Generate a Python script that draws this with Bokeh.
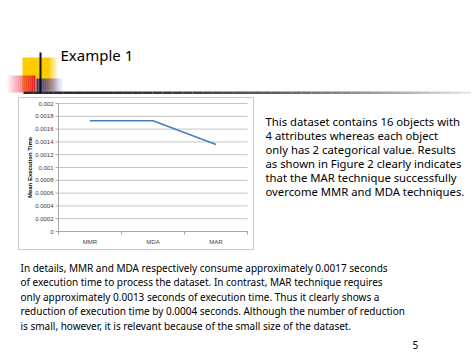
from math import pi
from bokeh.plotting import figure
from bokeh.models import Range1d, LinearScale
from bokeh.core.properties import value
from bokeh.embed import file_html
from bokeh.resources import INLINE

# ---- data ----
techniques = ["MMR", "MDA", "MAR"]
mean_exec_time = [0.00173, 0.00173, 0.00136]
y_ticks = [0, 0.0002, 0.0004, 0.0006, 0.0008, 0.001, 0.0012, 0.0014, 0.0016, 0.0018, 0.002]
y_tick_labels = ["0", "0.0002", "0.0004", "0.0006", "0.0008", "0.001", "0.0012",
                 "0.0014", "0.0016", "0.0018", "0.002"]
y_axis_title = "Mean Execution Time"
title_text = "Example 1"
right_lines = [
    "This dataset contains 16 objects with",
    "4 attributes whereas each object",
    "only has 2 categorical value. Results",
    "as shown in Figure 2 clearly indicates",
    "that the MAR technique successfully",
    "overcome MMR and MDA techniques.",
]
bottom_lines = [
    "In details, MMR and MDA respectively consume approximately 0.0017 seconds",
    "of execution time to process the dataset. In contrast, MAR technique requires",
    "only approximately 0.0013 seconds of execution time. Thus it clearly shows a",
    "reduction of execution time by 0.0004 seconds. Although the number of reduction",
    "is small, however, it is relevant because of the small size of the dataset.",
]
page_number = "5"

# ---- page geometry (pixels, origin top-left) ----
W, H = 472, 353
FL, FR, FT, FB = 58, 247, 103, 231      # chart plot area
FONT = "Noto Sans"

p = figure(width=W, height=H, output_backend="svg", toolbar_location=None,
           x_range=Range1d(0, W), y_range=Range1d(H, 0),
           min_border=0, x_axis_location=None, y_axis_location=None)
p.xgrid.visible = False
p.ygrid.visible = False
p.outline_line_color = None
p.background_fill_color = "white"
p.border_fill_color = "white"

# ---- slide decorations ----
p.quad(left=[22], right=[50], top=[57], bottom=[90], fill_color="#ffcc00", line_color=None)
fx = list(range(50, 57))
p.quad(left=fx, right=[x + 1 for x in fx], top=57, bottom=90, fill_color="#ffcc00",
       fill_alpha=[1 - (i + 1) / 8 for i in range(len(fx))], line_color=None)
rx = [7 + 2 * i for i in range(14)]
p.quad(left=rx, right=[x + 2 for x in rx], top=75, bottom=92, fill_color="#e8202a",
       fill_alpha=[(i + 1) / 14 for i in range(14)], line_color=None)
bx = [36 + 2 * i for i in range(13)]
p.quad(left=bx, right=[x + 2 for x in bx], top=78, bottom=92, fill_color="#2a2ad0",
       fill_alpha=[1 - i / 13 for i in range(13)], line_color=None)
n = 45
hx = [23 + i * (470 - 23) / n for i in range(n + 1)]
cols = []
for i in range(n):
    g = int(0x2c + (0xe6 - 0x2c) * (i / (n - 1)) ** 2.2)
    cols.append("#%02x%02x%02x" % (g, g, g))
p.quad(left=hx[:-1], right=hx[1:], top=91, bottom=93.5, fill_color=cols, line_color=None)
p.quad(left=[39], right=[41], top=[52], bottom=[93], fill_color="#111111", line_color=None)

# chart box
p.quad(left=[18], right=[253], top=[97], bottom=[249], fill_color="white",
       line_color="#c8c8c8", line_width=1)

# ---- chart through sub-coordinate systems ----
ncat = len(techniques)
cat_pos = [i + 0.5 for i in range(ncat)]          # band centres of the categories
cat_bounds = [float(i) for i in range(ncat + 1)]  # band boundaries

chart = p.subplot(x_source=Range1d(0, ncat), x_scale=LinearScale(),
                  y_source=Range1d(0, 0.002), y_scale=LinearScale(),
                  x_target=Range1d(FL, FR), y_target=Range1d(FB, FT))
yax = p.subplot(x_source=Range1d(0, W), x_scale=LinearScale(),
                y_source=Range1d(0, 0.002), y_scale=LinearScale(),
                x_target=Range1d(0, W), y_target=Range1d(FB, FT))
xax = p.subplot(x_source=Range1d(0, ncat), x_scale=LinearScale(),
                y_source=Range1d(0, H), y_scale=LinearScale(),
                x_target=Range1d(FL, FR), y_target=Range1d(0, H))

# gridlines
yax.segment(x0=FL, x1=FR, y0=y_ticks, y1=y_ticks, line_color="#c4c4c4", line_width=1)
# y axis
p.segment(x0=[FL], x1=[FL], y0=[FT], y1=[FB], line_color="#a6a6a6", line_width=1)
yax.segment(x0=FL - 3, x1=FL, y0=y_ticks, y1=y_ticks, line_color="#a6a6a6", line_width=1)
yax.text(x=FL - 5, y=y_ticks, text=y_tick_labels, text_font=value("Liberation Sans"),
         text_font_size="6px", text_color="#404040", text_align="right",
         text_baseline="middle")
p.text(x=[29], y=[(FT + FB) / 2], text=[y_axis_title], angle=pi / 2,
       text_font=value("Liberation Sans"), text_font_size="6px", text_font_style="bold",
       text_color="black", text_align="center", text_baseline="middle")
# x axis
p.segment(x0=[FL], x1=[FR], y0=[FB], y1=[FB], line_color="#a6a6a6", line_width=1)
xax.segment(x0=cat_bounds, x1=cat_bounds, y0=FB, y1=FB + 3, line_color="#a6a6a6",
            line_width=1)
xax.text(x=cat_pos, y=FB + 10, text=techniques, text_font=value("Liberation Sans"),
         text_font_size="6px", text_color="#404040", text_align="center",
         text_baseline="middle")

# data series
chart.line(x=cat_pos, y=mean_exec_time, line_color="#4a7ebb", line_width=1.6)

# ---- slide texts ----
p.text(x=[60], y=[54], text=[title_text], text_font=value(FONT), text_font_size="15px",
       text_color="black", text_baseline="alphabetic")
p.text(x=[265] * len(right_lines), y=[121 + 14 * i for i in range(len(right_lines))],
       text=right_lines, text_font=value(FONT), text_font_size="11.3px",
       text_color="black", text_baseline="middle")
p.text(x=[20] * len(bottom_lines), y=[267 + 14.5 * i for i in range(len(bottom_lines))],
       text=bottom_lines, text_font=value(FONT), text_font_size="10px",
       text_color="black", text_baseline="middle")
p.text(x=[412], y=[344], text=[page_number], text_font=value(FONT), text_font_size="10px",
       text_color="black", text_baseline="middle")

open("out.html", "w").write(file_html(p, INLINE))
